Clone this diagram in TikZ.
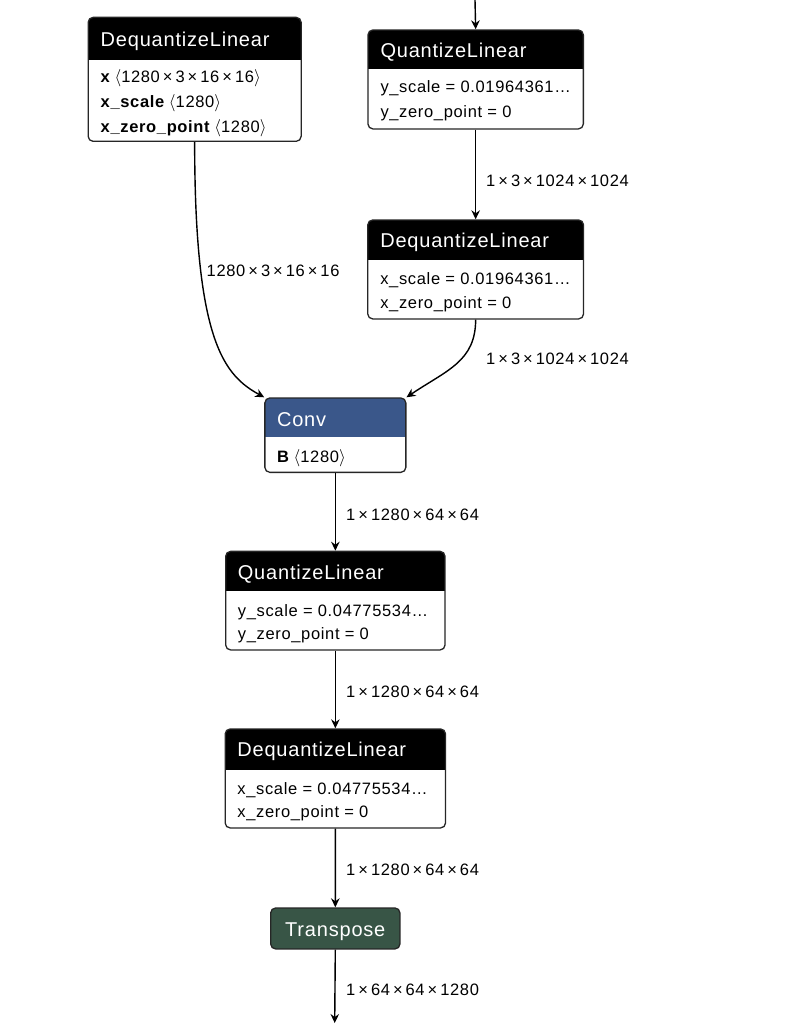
\documentclass[tikz,border=0pt]{standalone}
\usepackage{fontspec}
\setmainfont{Liberation Sans}[LetterSpace=4]
\usepackage{tikz}
\usetikzlibrary{positioning,arrows.meta}
\definecolor{convblue}{RGB}{58,87,138}
\definecolor{transgreen}{RGB}{56,85,70}
\newcommand{\tms}{\kern3pt×\kern3pt}
\newcommand{\dims}[1]{\kern4pt$\langle$#1$\rangle$}

\begin{document}
\begin{tikzpicture}[x=1pt, y=-1pt,
  opnode/.style 2 args={draw=black!85, line width=1.3pt, fill=white,
    rounded corners=5pt, anchor=north west, inner sep=0pt,
    path picture={\fill[#1, sharp corners] (path picture bounding box.north west)
      rectangle ([yshift=-#2]path picture bounding box.north east);}},
  hd/.style={anchor=base west, inner sep=0pt, text=white,
    font=\fontsize{20}{24}\selectfont},
  row/.style={anchor=base west, inner sep=0pt, font=\fontsize{16.5}{20}\selectfont},
  lbl/.style={anchor=base west, inner sep=0pt, font=\fontsize{16.5}{20}\selectfont},
  link/.style={->, draw, line width=1.4pt,
    >={Stealth[length=9pt, width=8.5pt, inset=3pt]}}
  ]
  \useasboundingbox (0,0) rectangle (789,1024);

  % left branch
  \node[opnode={black}{42.5pt}, minimum width=213pt, minimum height=124pt] (dq1) at (87.5,16.7) {};
  \node[hd] (dq1h) at ([shift={(13,30.3)}]dq1.north west) {DequantizeLinear};
  \node[row] (dq1a) at ([shift={(13,66.3)}]dq1.north west) {\textbf{x}\dims{1280\tms3\tms16\tms16}};
  \node[row] (dq1b) at ([shift={(13,91.3)}]dq1.north west) {\textbf{x\_scale}\dims{1280}};
  \node[row] (dq1c) at ([shift={(13,116.3)}]dq1.north west) {\textbf{x\_zero\_point}\dims{1280}};

  % right branch
  \coordinate (in1) at (475,0);
  \node[opnode={black}{39pt}, minimum width=215.4pt, minimum height=99pt] (q1) at (367.3,29.3) {};
  \node[hd] (q1h) at ([shift={(13,28.7)}]q1.north west) {QuantizeLinear};
  \node[row] (q1a) at ([shift={(13,63.7)}]q1.north west) {y\_scale = 0.01964361…};
  \node[row] (q1b) at ([shift={(13,88.7)}]q1.north west) {y\_zero\_point = 0};

  \node[opnode={black}{40pt}, minimum width=215.8pt, minimum height=99pt] (dq2) at (367.1,219.3) {};
  \node[hd] (dq2h) at ([shift={(13,28.3)}]dq2.north west) {DequantizeLinear};
  \node[row] (dq2a) at ([shift={(13,65.5)}]dq2.north west) {x\_scale = 0.01964361…};
  \node[row] (dq2b) at ([shift={(13,89.5)}]dq2.north west) {x\_zero\_point = 0};

  % main chain
  \node[opnode={convblue}{39.4pt}, minimum width=141pt, minimum height=74.4pt] (conv) at (264.2,397.3) {};
  \node[hd] (convh) at ([shift={(12.7,28.7)}]conv.north west) {Conv};
  \node[row] (conva) at ([shift={(12.7,65.4)}]conv.north west) {\textbf{B}\dims{1280}};

  \node[opnode={black}{40pt}, minimum width=219.4pt, minimum height=98.6pt] (q2) at (225,550.7) {};
  \node[hd] (q2h) at ([shift={(12.7,28.6)}]q2.north west) {QuantizeLinear};
  \node[row] (q2a) at ([shift={(12.7,65.3)}]q2.north west) {y\_scale = 0.04775534…};
  \node[row] (q2b) at ([shift={(12.7,89)}]q2.north west) {y\_zero\_point = 0};

  \node[opnode={black}{41pt}, minimum width=220.4pt, minimum height=99pt] (dq3) at (224.5,728.3) {};
  \node[hd] (dq3h) at ([shift={(12.7,28.4)}]dq3.north west) {DequantizeLinear};
  \node[row] (dq3a) at ([shift={(12.7,65.7)}]dq3.north west) {x\_scale = 0.04775534…};
  \node[row] (dq3b) at ([shift={(12.7,89)}]dq3.north west) {x\_zero\_point = 0};

  \node[opnode={transgreen}{41pt}, minimum width=129.3pt, minimum height=41pt] (tr) at (270,907.3) {};
  \node[hd, anchor=base] (trh) at ([shift={(0,28.7)}]tr.north) {Transpose};
  \coordinate (out1) at (334.7,1023);

  % connectors
  \draw[link] (in1) -- (q1.north);
  \draw[link] (q1.south) -- (dq2.north);
  \draw[link] (dq1.south) .. controls +(0,200) and +(-40,-22) .. (conv.north west);
  \draw[link] (dq2.south) .. controls +(0,42) and +(40,-27) .. (conv.north east);
  \draw[link] (conv.south) -- (q2.north);
  \draw[link] (q2.south) -- (dq3.north);
  \draw[link] (dq3.south) -- (tr.north);
  \draw[link] (tr.south) -- (out1);

  % tensor shapes
  \node[lbl] (s1) at (486,187) {1\tms3\tms1024\tms1024};
  \node[lbl] (s2) at (206.5,276) {1280\tms3\tms16\tms16};
  \node[lbl] (s3) at (486,364) {1\tms3\tms1024\tms1024};
  \node[lbl] (s4) at (346,520) {1\tms1280\tms64\tms64};
  \node[lbl] (s5) at (346,697) {1\tms1280\tms64\tms64};
  \node[lbl] (s6) at (346,875) {1\tms1280\tms64\tms64};
  \node[lbl] (s7) at (346,995) {1\tms64\tms64\tms1280};
\end{tikzpicture}
\end{document}
